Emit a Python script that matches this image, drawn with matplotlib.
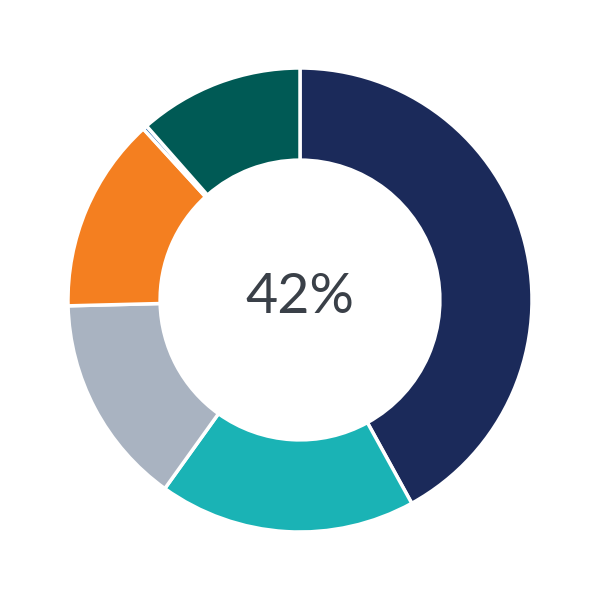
import matplotlib.pyplot as plt

# slice shares in percent, clockwise from 12 o'clock
labels = ["Navy", "Teal", "Gray", "Orange", "Blue", "Green"]
values = [42, 17.9, 14.7, 13.6, 0.3, 11.5]
colors = ["#1b2a5a", "#1ab3b5", "#a9b3c1", "#f47f20", "#2f6eb5", "#005a55"]
center_text = "42%"

fig = plt.figure(figsize=(6, 6), dpi=100)
ax = fig.add_axes([0, 0, 1, 1])

ax.pie(values, colors=colors, startangle=90, counterclock=False,
       radius=1.0, wedgeprops=dict(width=0.397, edgecolor="white", linewidth=2.5))

ax.text(0, 0.01, center_text, ha="center", va="center", fontsize=40,
        color="#3a4048", family=["Lato", "DejaVu Sans"])

lim = 300 / 232
ax.set_xlim(-lim, lim)
ax.set_ylim(-lim, lim)
ax.set_aspect("equal")
ax.axis("off")

fig.savefig("out.png", dpi=100, facecolor="white")
